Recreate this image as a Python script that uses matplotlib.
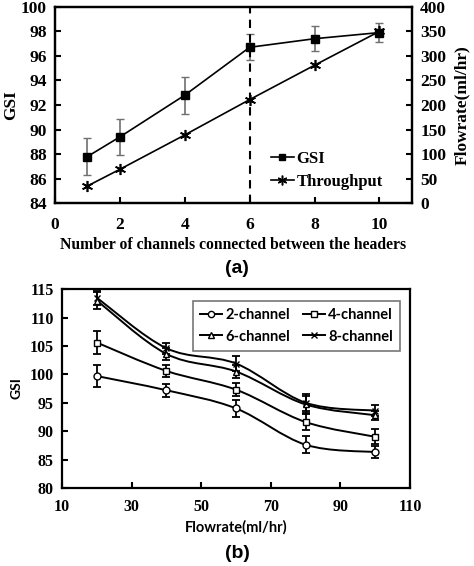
import matplotlib.pyplot as plt
import numpy as np
from matplotlib.path import Path
from matplotlib.patches import PathPatch
from matplotlib.lines import Line2D

# (a) GSI and throughput vs number of channels
channels = [1, 2, 4, 6, 8, 10]
gsi = [87.8, 89.4, 92.8, 96.7, 97.4, 97.9]
gsi_err = [1.5, 1.45, 1.5, 1.05, 1.0, 0.8]
throughput = [35, 69, 139, 211, 281, 350]

# (b) GSI vs flowrate for each channel count
flowrate = [20, 40, 60, 80, 100]
ch2 = [99.7, 97.2, 94.0, 87.6, 86.3]
ch2_err = [2.0, 1.1, 1.5, 1.5, 1.0]
ch4 = [105.6, 100.6, 97.3, 91.6, 89.0]
ch4_err = [2.0, 1.0, 1.1, 1.4, 1.3]
ch6 = [113.0, 103.6, 100.5, 94.7, 92.8]
ch6_err = [1.5, 1.0, 1.2, 1.5, 0.8]
ch8 = [113.5, 104.6, 101.9, 95.0, 93.6]
ch8_err = [1.2, 1.0, 1.3, 1.5, 1.0]

serif = 'Liberation Serif'
sans = 'Lato'
star = (6, 2, 0)

fig = plt.figure(figsize=(4.74, 5.66), dpi=100)

# ---------- panel (a)
ax = fig.add_axes([0.116, 0.641, 0.753, 0.347])
ax2 = ax.twinx()
ax.errorbar(channels, gsi, yerr=gsi_err, fmt='none', ecolor='#707070', elinewidth=1.2, capsize=3, zorder=2)
ax.plot(channels, gsi, color='black', lw=1.2, marker='s', ms=6, zorder=3)
ax2.plot(channels, throughput, color='black', lw=1.2, marker=star, ms=8, mew=1.2)
ax.axvline(6, color='black', lw=1.5, ls=(0, (4, 3)))

ax.set_xlim(0, 11)
ax.set_ylim(84, 100)
ax2.set_ylim(0, 400)
ax.set_xticks([0, 2, 4, 6, 8, 10])
ax.set_yticks(np.arange(84, 101, 2))
ax2.set_yticks(np.arange(0, 401, 50))
for a in (ax, ax2):
    a.tick_params(direction='in', length=4, width=1.5, labelsize=12.5, pad=6)
    for lab in a.get_xticklabels() + a.get_yticklabels():
        lab.set_fontfamily(serif)
        lab.set_fontweight('bold')
    for s in a.spines.values():
        s.set_linewidth(1.6)
ax.tick_params(axis='x', pad=10)
ax.set_ylabel('GSI', fontfamily=serif, fontweight='bold', fontsize=12.5, labelpad=1)
ax2.set_ylabel('Flowrate(ml/hr)', fontfamily=serif, fontweight='bold', fontsize=12.5, labelpad=6)
ax.set_xlabel('Number of channels connected between the headers', fontfamily=serif,
              fontweight='bold', fontsize=11.3, labelpad=3)
h1 = Line2D([], [], color='black', lw=1.2, marker='s', ms=5)
h2 = Line2D([], [], color='black', lw=1.2, marker=star, ms=7, mew=1.1)
ax.legend([h1, h2], ['GSI', 'Throughput'], loc='lower right', bbox_to_anchor=(0.96, -0.01),
          frameon=False, handlelength=1.4, handletextpad=0.15, labelspacing=0.45,
          prop={'family': serif, 'weight': 'bold', 'size': 12})
fig.text(0.5, 0.525, '(a)', ha='center', va='center', fontfamily='Liberation Sans',
         fontweight='bold', fontsize=14)

# ---------- panel (b)
bx = fig.add_axes([0.131, 0.138, 0.734, 0.351])


def smooth(ax_, xs, ys):
    # Excel-style smoothed line as a cubic Bezier path through the points
    pts = np.column_stack([xs, ys]).astype(float)
    verts = [pts[0]]
    codes = [Path.MOVETO]
    n = len(pts)
    for i in range(n - 1):
        p0 = pts[max(i - 1, 0)]
        p1 = pts[i]
        p2 = pts[i + 1]
        p3 = pts[min(i + 2, n - 1)]
        verts += [p1 + (p2 - p0) / 6, p2 - (p3 - p1) / 6, p2]
        codes += [Path.CURVE4] * 3
    ax_.add_patch(PathPatch(Path(verts, codes), fill=False, edgecolor='black', lw=1.4, zorder=2))


series = [(ch2, ch2_err, 'o', '2-channel'), (ch4, ch4_err, 's', '4-channel'),
          (ch6, ch6_err, '^', '6-channel'), (ch8, ch8_err, 'x', '8-channel')]
handles = {}
for ys, err, m, name in series:
    smooth(bx, flowrate, ys)
    bx.errorbar(flowrate, ys, yerr=err, fmt='none', ecolor='black', elinewidth=1.3, capsize=3, capthick=1.3, zorder=3)
    bx.plot(flowrate, ys, ls='none', marker=m, ms=5, mfc='white', mec='black', mew=1.0, zorder=4)
    handles[name] = Line2D([], [], color='black', lw=1.4, marker=m, ms=4.5, mfc='white', mec='black', mew=1.0)

bx.set_xlim(10, 110)
bx.set_ylim(80, 115)
bx.set_xticks([10, 30, 50, 70, 90, 110])
bx.set_yticks(np.arange(80, 116, 5))
bx.tick_params(direction='in', length=4, width=1.5, labelsize=11.5, pad=6)
bx.tick_params(axis='x', pad=8)
for lab in bx.get_xticklabels() + bx.get_yticklabels():
    lab.set_fontfamily(serif)
    lab.set_fontweight('bold')
for s in bx.spines.values():
    s.set_linewidth(1.6)
bx.set_ylabel('GSI', fontfamily=sans, fontweight='bold', fontsize=10, labelpad=5)
bx.set_xlabel('Flowrate(ml/hr)', fontfamily=sans, fontweight='bold', fontsize=10.5, labelpad=4)
order = ['2-channel', '6-channel', '4-channel', '8-channel']
leg = bx.legend([handles[k] for k in order], order, ncol=2, loc='upper right',
                bbox_to_anchor=(0.971, 0.941), borderaxespad=0, fancybox=False, edgecolor='#555555',
                handlelength=1.5, handletextpad=0.2, columnspacing=0.9, labelspacing=0.5,
                borderpad=0.5, prop={'family': sans, 'weight': 'bold', 'size': 10.5})
leg.get_frame().set_linewidth(1.2)
fig.text(0.5, 0.022, '(b)', ha='center', va='center', fontfamily='Liberation Sans',
         fontweight='bold', fontsize=14)

fig.savefig('out.png', dpi=100)
